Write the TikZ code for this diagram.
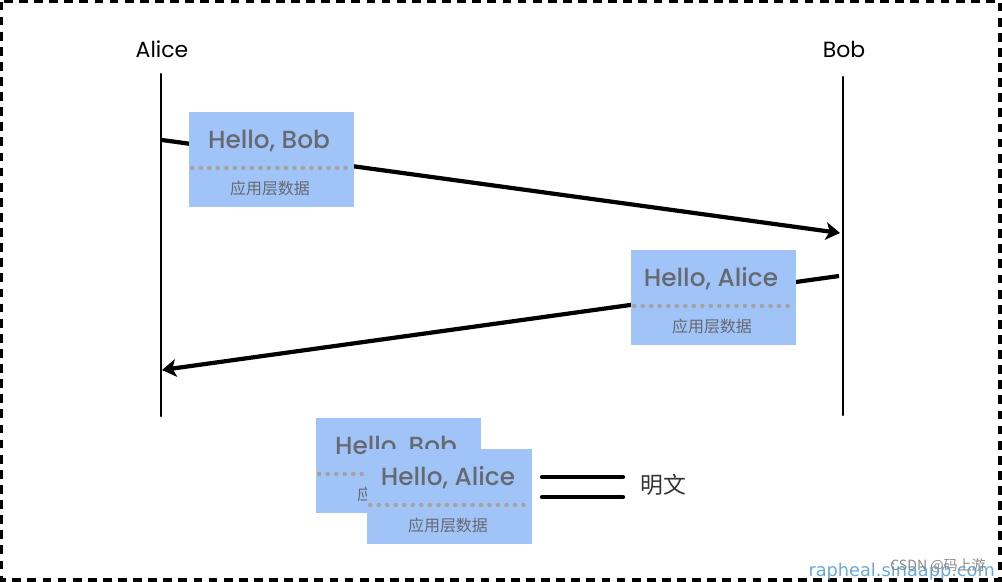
\documentclass[tikz,border=0pt]{standalone}
\usepackage{fontspec}
\usepackage{tikz}
\usetikzlibrary{arrows.meta}
\setmainfont{Poppins}
\newfontfamily\hellofont{Poppins Medium}
\newfontfamily\cjk{Noto Sans CJK SC}
\newfontfamily\wmfont{DejaVu Sans}
\definecolor{pktblue}{HTML}{A0C4F8}
\definecolor{pkttext}{HTML}{666A70}
\definecolor{pktdot}{HTML}{A3A3A3}
\definecolor{wmblue}{HTML}{6AA8D8}
\definecolor{wmgrey}{HTML}{8A8A8A}
\tikzstyle{arrow} = [line width=2.4pt,-{Stealth[length=8pt,width=10pt,inset=2pt]}]
\tikzstyle{lifeline} = [line width=1.3pt,line cap=round]
\tikzstyle{eqline} = [line width=2.4pt,line cap=round]
\tikzstyle{pkt} = [fill=pktblue,minimum width=3.3cm,minimum height=1.9cm,inner sep=0pt]
\tikzstyle{hello} = [text=pkttext,font=\hellofont\fontsize{14.1}{16}\selectfont]
\tikzstyle{layer} = [text=pkttext,font=\cjk\fontsize{9.1}{10}\selectfont]
\tikzstyle{sep} = [pktdot,line width=2.6pt,line cap=round,dash pattern=on 0pt off 4.85pt]
\tikzstyle{actor} = [font=\fontsize{12.5}{14}\selectfont]
\begin{document}
\begin{tikzpicture}[x=0.02cm,y=-0.02cm]
    \useasboundingbox (0,0) rectangle (1002,582);

    % Outer frame
    \draw[line width=1.8pt,dash pattern=on 5pt off 3.6pt] (1.5,1.5) rectangle (1000,580);

    % Alice and Bob
    \node[actor] (alice) at (162,49.5) {Alice};
    \node[actor] (bob) at (844,49.5) {Bob};
    \coordinate (alicetop) at (161,74);
    \coordinate (alicebot) at (161,416);
    \coordinate (bobtop) at (843,77);
    \coordinate (bobbot) at (843,415);
    \draw[lifeline] (alicetop) -- (alicebot);
    \draw[lifeline] (bobtop) -- (bobbot);

    % Messages
    \coordinate (sendA) at (162,140);
    \coordinate (recvB) at (840,233);
    \coordinate (sendB) at (839,276);
    \coordinate (recvA) at (162,370);
    \draw[arrow] (sendA) -- (recvB);
    \draw[arrow] (sendB) -- (recvA);

    % Packet on the way to Bob
    \node[pkt] (pktbob) at (271.5,159.5) {};
    \node[hello] (hellobob) at (269,141) {Hello, Bob};
    \draw[sep] ([xshift=2pt,yshift=-4.8pt]pktbob.west) -- ([xshift=-1.5pt,yshift=-4.8pt]pktbob.east);
    \node[layer] (databob) at (270,188.5) {应用层数据};

    % Packet on the way to Alice
    \node[pkt] (pktalice) at (713.5,297.5) {};
    \node[hello] (helloalice) at (711,279) {Hello, Alice};
    \draw[sep] ([xshift=2pt,yshift=-4.8pt]pktalice.west) -- ([xshift=-1.5pt,yshift=-4.8pt]pktalice.east);
    \node[layer] (dataalice) at (712,326.5) {应用层数据};

    % Stacked packets
    \node[pkt] (backpkt) at (398.5,465.5) {};
    \node[hello] (backhello) at (396,447) {Hello, Bob};
    \draw[sep] ([xshift=2pt,yshift=-4.8pt]backpkt.west) -- ([xshift=-1.5pt,yshift=-4.8pt]backpkt.east);
    \node[layer] (backdata) at (397,494.5) {应用层数据};
    \node[pkt] (frontpkt) at (449.5,496.5) {};
    \node[hello] (fronthello) at (448,478) {Hello, Alice};
    \draw[sep] ([xshift=2pt,yshift=-4.8pt]frontpkt.west) -- ([xshift=-1.5pt,yshift=-4.8pt]frontpkt.east);
    \node[layer] (frontdata) at (448,525.5) {应用层数据};

    % Equals sign and label
    \coordinate (eqAl) at (542,477);
    \coordinate (eqAr) at (623,477);
    \coordinate (eqBl) at (542,497);
    \coordinate (eqBr) at (623,497);
    \draw[eqline] (eqAl) -- (eqAr);
    \draw[eqline] (eqBl) -- (eqBr);
    \node[font=\cjk\fontsize{13}{15}\selectfont,text=black!80] (plain) at (663,484.5) {明文};

    % Watermarks
    \node[font=\wmfont\fontsize{10.1}{12}\selectfont,text=wmblue,anchor=base east] (wmsite) at (1001,576) {rapheal.sinaapp.com};
    \node[font=\cjk\fontsize{8}{9}\selectfont,text=wmgrey,anchor=base east] (wmcsdn) at (992,570) {CSDN @码上游};
\end{tikzpicture}
\end{document}
